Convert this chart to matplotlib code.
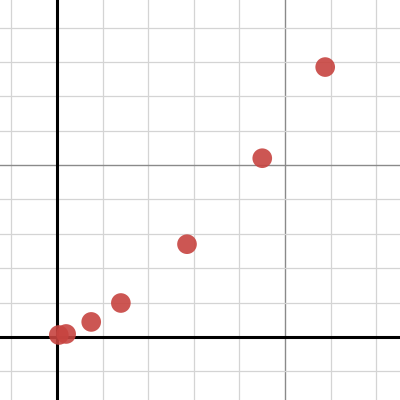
import matplotlib
matplotlib.use("Agg")
import matplotlib.pyplot as plt
import numpy as np

x_vals = [0.04, 0.2, 0.75, 1.4, 2.85, 4.5, 5.88]
y_vals = [0.06, 0.09, 0.44, 0.99, 2.70, 5.20, 7.85]

fig = plt.figure(figsize=(4, 4), dpi=100)
ax = fig.add_axes([0, 0, 1, 1])
xmin, xmax = -1.25, 7.52
ymin, ymax = -1.83, 9.80
ax.set_xlim(xmin, xmax)
ax.set_ylim(ymin, ymax)
for v in np.arange(-1, 8):
    c, lw = ("#8a8a8a", 1.0) if v % 5 == 0 else ("#d4d4d4", 0.9)
    ax.axvline(v, color=c, lw=lw, zorder=0)
for v in np.arange(-1, 10):
    c, lw = ("#8a8a8a", 1.0) if v % 5 == 0 else ("#d4d4d4", 0.9)
    ax.axhline(v, color=c, lw=lw, zorder=0)
ax.axvline(0, color="black", lw=2.2, zorder=1)
ax.axhline(0, color="black", lw=2.2, zorder=1)
ax.scatter(x_vals, y_vals, s=200, color="#c74440", zorder=3, edgecolors="none", alpha=0.9)
ax.set_xticks([]); ax.set_yticks([])
for s in ax.spines.values():
    s.set_visible(False)
fig.savefig("out.png", dpi=100)
